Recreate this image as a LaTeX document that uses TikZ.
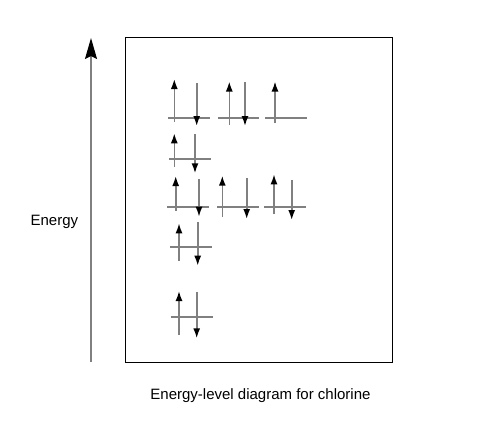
\documentclass[tikz,border=0pt]{standalone}
\usepackage{fontspec}
\setmainfont{Liberation Sans}
\usetikzlibrary{arrows.meta}
\definecolor{ln}{HTML}{808080}
\begin{document}
\begin{tikzpicture}[x=1pt,y=-1pt,
  level/.style={draw=ln,line width=1.6pt},
  spin/.style={draw=ln,line width=1.6pt,-{Latex[length=10pt,width=7pt,color=black]}},
  frame/.style={draw=black,line width=1pt},
  axis/.style={draw=ln,line width=1.6pt,-{Stealth[length=21pt,width=12pt,inset=3pt,color=black]}},
  lbl/.style={font=\fontsize{15}{18}\selectfont,inner sep=0pt}]
\useasboundingbox (0,0) rectangle (483,437);
% frame and axis
\draw[frame] (125,37) rectangle (392,362);
\coordinate (ax0) at (91,362);
\coordinate (ax1) at (91,38);
\draw[axis] (ax0) -- (ax1);
\node[lbl,anchor=east] (en) at (78.3,222) {Energy};
\node[lbl] (cap) at (260.5,396) {Energy-level diagram for chlorine};
% 3p
\draw[level] (168,117.7) -- (210,117.7);
\draw[level] (218,117.7) -- (259,117.7);
\draw[level] (265,117.7) -- (307,117.7);
\draw[spin] (174.3,122) -- (174.3,79);
\draw[spin] (196.7,83) -- (196.7,126);
\draw[spin] (229.3,125) -- (229.3,81.5);
\draw[spin] (245,82.3) -- (245,126);
\draw[spin] (275,123.3) -- (275,81.5);
% 3s
\draw[level] (169,158.7) -- (210.7,158.7);
\draw[spin] (174.3,166.7) -- (174.3,133.3);
\draw[spin] (195,134) -- (195,173.3);
% 2p
\draw[level] (167.3,206.7) -- (209,206.7);
\draw[level] (217.3,206.7) -- (259,206.7);
\draw[level] (264,206.7) -- (306,206.7);
\draw[spin] (175.7,210.7) -- (175.7,176);
\draw[spin] (199,179) -- (199,216.7);
\draw[spin] (222.3,216.7) -- (222.3,175.7);
\draw[spin] (246.7,178.3) -- (246.7,219);
\draw[spin] (274,214) -- (274,174.3);
\draw[spin] (291.7,180) -- (291.7,220);
% 2s
\draw[level] (170,246.7) -- (211.7,246.7);
\draw[spin] (179,260.7) -- (179,223.3);
\draw[spin] (197.7,222.3) -- (197.7,265.7);
% 1s
\draw[level] (171,316.7) -- (212.7,316.7);
\draw[spin] (179,335) -- (179,291);
\draw[spin] (196.7,291.7) -- (196.7,338.3);
\end{tikzpicture}
\end{document}
